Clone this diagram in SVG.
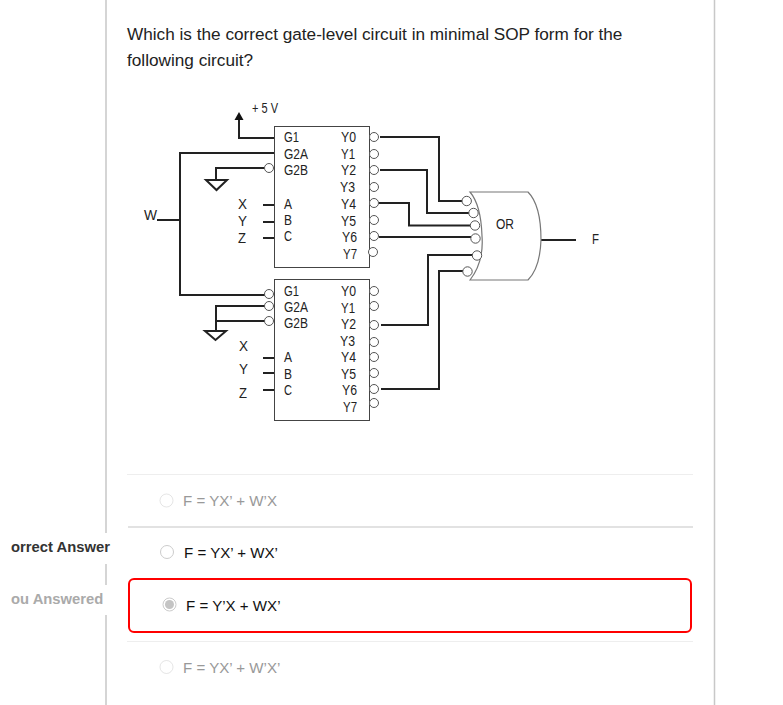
<svg xmlns="http://www.w3.org/2000/svg" width="783" height="705" viewBox="0 0 783 705">
<style>
.t{font-family:"Liberation Sans",Arial,sans-serif;font-size:14px;fill:#222}
.q{font-family:"Liberation Sans",Arial,sans-serif;font-size:17.2px;fill:#222}
.o{font-family:"Liberation Sans",Arial,sans-serif;font-size:15.1px}
.w{fill:none;stroke:#222;stroke-width:2}
.b{fill:#fff;stroke:#444;stroke-width:1}
.c{fill:#fff;stroke:#555;stroke-width:1}
.s{stroke:#c8c8c8;stroke-width:1.5;fill:none}
.l{stroke:#eee;stroke-width:1;fill:none}
.r{fill:#fff;stroke:#ccc;stroke-width:1}
.m{font-family:"Liberation Sans",Arial,sans-serif;font-size:14.8px;font-weight:bold}
</style>
<rect width="783" height="705" fill="#fff"/>
<g id="page">
<path class="s" d="M106 0V533M106 563V585M106 615V705M714.500 0V705"/>
<path class="l" d="M127 474.500H693M127 641.500H693"/>
<path d="M128 527H693" stroke="#d8d8d8" stroke-width="1.500" fill="none"/>
</g>
<text class="q" x="127" y="40">Which is the correct gate-level circuit in minimal SOP form for the</text>
<text class="q" x="127" y="66">following circuit?</text>
<g id="connectors">
<path class="w" d="M239 117V138H275"/>
<path d="M239 112L234.500 120H243.500Z" fill="#111"/>
<path class="w" d="M275 153H180V295H270"/>
<path class="w" d="M157 220H180"/>
<path class="w" d="M264 168H216V180"/>
<path class="w" d="M263 205H275M263 222H275M263 238H275"/>
<path class="w" d="M380 137H439V201H462"/>
<path class="w" d="M380 170H427V213H469"/>
<path class="w" d="M379 203H409V225.500H471"/>
<path class="w" d="M379 237H471"/>
<path class="w" d="M473 255H428V325H381"/>
<path class="w" d="M463 271H439V389H381"/>
<path class="w" d="M265 306H216V331M265 321H216"/>
<path class="w" d="M263 358H275M263 373H275M263 390H275"/>
<path class="w" d="M541 240H576"/>
</g>
<g id="ground-1"><path d="M206 180H227L216.500 190Z" fill="#fff" stroke="#222" stroke-width="2"/></g>
<g id="ground-2"><path d="M205 331H226L215.500 340Z" fill="#fff" stroke="#222" stroke-width="2"/></g>
<g id="decoder-1">
<rect class="b" x="274.500" y="126.500" width="95" height="141"/>
<text class="t" x="284" y="142" textLength="15" lengthAdjust="spacingAndGlyphs">G1</text><text class="t" x="284" y="159" textLength="24" lengthAdjust="spacingAndGlyphs">G2A</text><text class="t" x="284" y="175" textLength="24" lengthAdjust="spacingAndGlyphs">G2B</text>
<text class="t" x="284" y="209" textLength="8" lengthAdjust="spacingAndGlyphs">A</text><text class="t" x="284" y="225" textLength="8" lengthAdjust="spacingAndGlyphs">B</text><text class="t" x="284" y="241" textLength="8" lengthAdjust="spacingAndGlyphs">C</text>
<text class="t" x="341" y="142" textLength="15" lengthAdjust="spacingAndGlyphs">Y0</text><text class="t" x="341" y="159" textLength="14" lengthAdjust="spacingAndGlyphs">Y1</text><text class="t" x="341" y="175" textLength="15" lengthAdjust="spacingAndGlyphs">Y2</text><text class="t" x="340" y="192" textLength="15" lengthAdjust="spacingAndGlyphs">Y3</text>
<text class="t" x="341" y="209" textLength="15" lengthAdjust="spacingAndGlyphs">Y4</text><text class="t" x="341" y="226" textLength="15" lengthAdjust="spacingAndGlyphs">Y5</text><text class="t" x="342" y="242" textLength="15" lengthAdjust="spacingAndGlyphs">Y6</text><text class="t" x="343" y="259" textLength="14" lengthAdjust="spacingAndGlyphs">Y7</text>
<circle class="c" cx="269" cy="168" r="4.500"/>
<circle class="c" cx="374" cy="137" r="4.500"/><circle class="c" cx="374" cy="154" r="4.500"/><circle class="c" cx="374" cy="170" r="4.500"/><circle class="c" cx="374" cy="187" r="4.500"/>
<circle class="c" cx="374" cy="203" r="4.500"/><circle class="c" cx="374" cy="220" r="4.500"/><circle class="c" cx="374" cy="236" r="4.500"/><circle class="c" cx="373" cy="252" r="4.500"/>
</g>
<g id="decoder-2">
<rect class="b" x="274.500" y="279.500" width="95" height="141"/>
<text class="t" x="284" y="296" textLength="15" lengthAdjust="spacingAndGlyphs">G1</text><text class="t" x="284" y="312" textLength="24" lengthAdjust="spacingAndGlyphs">G2A</text><text class="t" x="284" y="328" textLength="24" lengthAdjust="spacingAndGlyphs">G2B</text>
<text class="t" x="284" y="362" textLength="8" lengthAdjust="spacingAndGlyphs">A</text><text class="t" x="284" y="379" textLength="8" lengthAdjust="spacingAndGlyphs">B</text><text class="t" x="284" y="395" textLength="8" lengthAdjust="spacingAndGlyphs">C</text>
<text class="t" x="341" y="296" textLength="15" lengthAdjust="spacingAndGlyphs">Y0</text><text class="t" x="341" y="313" textLength="14" lengthAdjust="spacingAndGlyphs">Y1</text><text class="t" x="341" y="329" textLength="15" lengthAdjust="spacingAndGlyphs">Y2</text><text class="t" x="340" y="346" textLength="15" lengthAdjust="spacingAndGlyphs">Y3</text>
<text class="t" x="341" y="362" textLength="15" lengthAdjust="spacingAndGlyphs">Y4</text><text class="t" x="341" y="379" textLength="15" lengthAdjust="spacingAndGlyphs">Y5</text><text class="t" x="342" y="395" textLength="15" lengthAdjust="spacingAndGlyphs">Y6</text><text class="t" x="343" y="412" textLength="14" lengthAdjust="spacingAndGlyphs">Y7</text>
<circle class="c" cx="269" cy="294" r="4.500"/><circle class="c" cx="269" cy="306" r="4.500"/><circle class="c" cx="269" cy="321" r="4.500"/>
<circle class="c" cx="374" cy="291" r="4.500"/><circle class="c" cx="374" cy="306" r="4.500"/><circle class="c" cx="374" cy="325" r="4.500"/><circle class="c" cx="374" cy="342" r="4.500"/>
<circle class="c" cx="374" cy="357" r="4.500"/><circle class="c" cx="374" cy="373" r="4.500"/><circle class="c" cx="374" cy="389" r="4.500"/><circle class="c" cx="374" cy="403" r="4.500"/>
</g>
<g id="or-gate">
<path d="M470 192H528Q541 205 541 240Q540 268 528 280H470Q484 262 482 236Q481 205 470 192Z" fill="#fff" stroke="#777" stroke-width="1.200"/>
<circle class="c" cx="466.700" cy="201" r="4.700"/><circle class="c" cx="473.500" cy="213" r="4.700"/><circle class="c" cx="475" cy="225.500" r="4.700"/><circle class="c" cx="475.500" cy="238.500" r="4.700"/><circle class="c" cx="477" cy="255.500" r="4.700"/><circle class="c" cx="467.500" cy="271.500" r="4.700"/>
<text class="t" x="496" y="229" textLength="18" lengthAdjust="spacingAndGlyphs">OR</text>
</g>
<g id="labels">
<text class="t" x="252" y="113" textLength="26" lengthAdjust="spacingAndGlyphs">+ 5 V</text>
<text class="t" x="144" y="220" textLength="13" lengthAdjust="spacingAndGlyphs">W</text>
<text class="t" x="238" y="209" textLength="9" lengthAdjust="spacingAndGlyphs">X</text><text class="t" x="238" y="226" textLength="9" lengthAdjust="spacingAndGlyphs">Y</text><text class="t" x="238" y="243" textLength="8" lengthAdjust="spacingAndGlyphs">Z</text>
<text class="t" x="239" y="351" textLength="9" lengthAdjust="spacingAndGlyphs">X</text><text class="t" x="239" y="374" textLength="9" lengthAdjust="spacingAndGlyphs">Y</text><text class="t" x="239" y="398" textLength="8" lengthAdjust="spacingAndGlyphs">Z</text>
<text class="t" x="592" y="244" textLength="7" lengthAdjust="spacingAndGlyphs">F</text>
</g>
<g id="answers">
<circle class="r" cx="166.500" cy="500.500" r="6.500" stroke-opacity=".5"/>
<text class="o" x="183" y="506" fill="#999">F = YX’ + W’X</text>
<circle class="r" cx="167" cy="552" r="6.500"/>
<text class="o" x="184" y="558" fill="#111">F = YX’ + WX’</text>
<rect x="129" y="579" width="562" height="53" rx="5" fill="#fff" stroke="#f00" stroke-width="2"/>
<circle class="r" cx="169.500" cy="604.500" r="6.500"/><circle cx="169.500" cy="604.500" r="4.500" fill="#c4c4c4"/>
<text class="o" x="186" y="611" fill="#111">F = Y’X + WX’</text>
<circle class="r" cx="166.500" cy="667" r="6.500" stroke-opacity=".5"/>
<text class="o" x="183" y="673" fill="#999">F = YX’ + W’X’</text>
<rect x="0" y="533" width="112" height="31" fill="#fff"/>
<rect x="0" y="585" width="107" height="30" fill="#fff"/>
<text class="m" x="11" y="552" fill="#333">orrect Answer</text>
<text class="m" x="11" y="604" fill="#aaa">ou Answered</text>
</g>
</svg>
